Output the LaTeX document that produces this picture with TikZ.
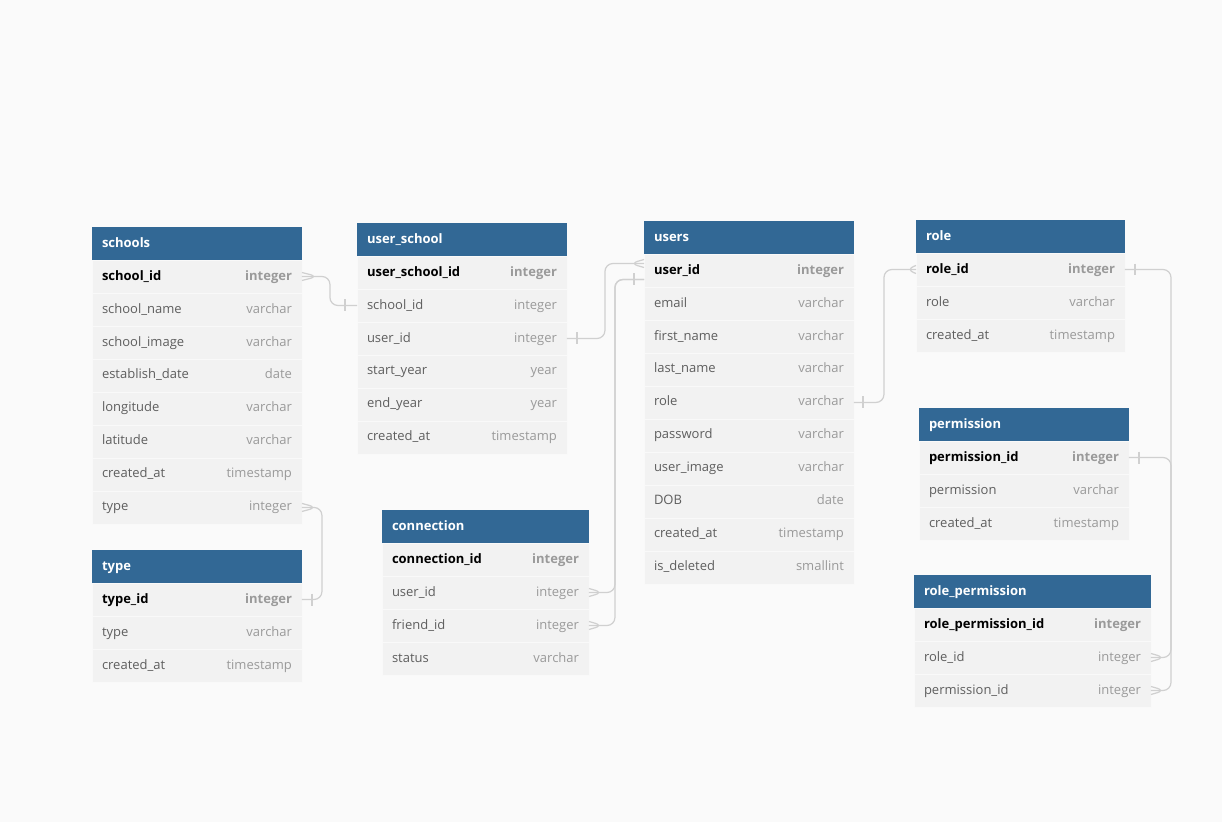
\documentclass[tikz,border=0pt]{standalone}
\usepackage{fontspec}
\setmainfont{Open Sans}
\usepackage{xcolor}
\usepackage{tikz}
\usetikzlibrary{positioning,calc}

\definecolor{hdrblue}{HTML}{326895}
\definecolor{rowgray}{HTML}{F2F2F2}
\definecolor{bggray}{HTML}{FAFAFA}
\definecolor{namegray}{HTML}{5E5E5E}
\definecolor{typegray}{HTML}{9A9A9A}
\definecolor{linkgray}{HTML}{D0D0D0}

\newcommand{\keyrow}[2]{\textbf{#1}\hfill\textcolor{typegray}{\textbf{#2}}}
\newcommand{\fieldrow}[2]{\textcolor{namegray}{#1}\hfill\textcolor{typegray}{#2}}
% crow foot and bar ends of a link
\newcommand{\manyend}[2]{\draw[link] ([yshift=0.08cm]#1) -- ([xshift=#2]#1) -- ([yshift=-0.08cm]#1);}
\newcommand{\oneend}[2]{\draw[link] ([xshift=#2,yshift=0.12cm]#1) -- ([xshift=#2,yshift=-0.12cm]#1);}

\tikzset{
  hdr/.style={fill=hdrblue, text=white, font=\fontsize{7.4}{9}\selectfont\bfseries, anchor=north west,
    minimum height=0.66cm, inner ysep=0pt, inner xsep=0.2cm, outer sep=0pt, text width=#1,
    text height=6pt, text depth=2pt},
  fld/.style={fill=rowgray, draw=white!55!rowgray, line width=0.4pt, font=\fontsize{7.4}{9}\selectfont,
    minimum height=0.66cm, inner ysep=0pt, inner xsep=0.2cm, outer sep=0pt, text width=#1,
    text height=6pt, text depth=2pt},
  link/.style={draw=linkgray, line width=0.7pt, rounded corners=0.16cm}
}

\begin{document}
\begin{tikzpicture}[x=0.02cm, y=-0.02cm, node distance=0cm]
    \useasboundingbox[fill=bggray] (0,0) rectangle (1222,822);

    % schools
    \node [hdr=3.8cm] (sch) at (92,227) {schools};
    \node [fld=3.8cm, below=0cm of sch] (sch1) {\keyrow{school\_id}{integer}};
    \node [fld=3.8cm, below=0cm of sch1] (sch2) {\fieldrow{school\_name}{varchar}};
    \node [fld=3.8cm, below=0cm of sch2] (sch3) {\fieldrow{school\_image}{varchar}};
    \node [fld=3.8cm, below=0cm of sch3] (sch4) {\fieldrow{establish\_date}{date}};
    \node [fld=3.8cm, below=0cm of sch4] (sch5) {\fieldrow{longitude}{varchar}};
    \node [fld=3.8cm, below=0cm of sch5] (sch6) {\fieldrow{latitude}{varchar}};
    \node [fld=3.8cm, below=0cm of sch6] (sch7) {\fieldrow{created\_at}{timestamp}};
    \node [fld=3.8cm, below=0cm of sch7] (sch8) {\fieldrow{type}{integer}};

    % type
    \node [hdr=3.8cm] (typ) at (92,550) {type};
    \node [fld=3.8cm, below=0cm of typ] (typ1) {\keyrow{type\_id}{integer}};
    \node [fld=3.8cm, below=0cm of typ1] (typ2) {\fieldrow{type}{varchar}};
    \node [fld=3.8cm, below=0cm of typ2] (typ3) {\fieldrow{created\_at}{timestamp}};

    % user_school
    \node [hdr=3.8cm] (us) at (357,223) {user\_school};
    \node [fld=3.8cm, below=0cm of us] (us1) {\keyrow{user\_school\_id}{integer}};
    \node [fld=3.8cm, below=0cm of us1] (us2) {\fieldrow{school\_id}{integer}};
    \node [fld=3.8cm, below=0cm of us2] (us3) {\fieldrow{user\_id}{integer}};
    \node [fld=3.8cm, below=0cm of us3] (us4) {\fieldrow{start\_year}{year}};
    \node [fld=3.8cm, below=0cm of us4] (us5) {\fieldrow{end\_year}{year}};
    \node [fld=3.8cm, below=0cm of us5] (us6) {\fieldrow{created\_at}{timestamp}};

    % connection
    \node [hdr=3.74cm] (cn) at (382,510) {connection};
    \node [fld=3.74cm, below=0cm of cn] (cn1) {\keyrow{connection\_id}{integer}};
    \node [fld=3.74cm, below=0cm of cn1] (cn2) {\fieldrow{user\_id}{integer}};
    \node [fld=3.74cm, below=0cm of cn2] (cn3) {\fieldrow{friend\_id}{integer}};
    \node [fld=3.74cm, below=0cm of cn3] (cn4) {\fieldrow{status}{varchar}};

    % users
    \node [hdr=3.8cm] (usr) at (644,221) {users};
    \node [fld=3.8cm, below=0cm of usr] (usr1) {\keyrow{user\_id}{integer}};
    \node [fld=3.8cm, below=0cm of usr1] (usr2) {\fieldrow{email}{varchar}};
    \node [fld=3.8cm, below=0cm of usr2] (usr3) {\fieldrow{first\_name}{varchar}};
    \node [fld=3.8cm, below=0cm of usr3] (usr4) {\fieldrow{last\_name}{varchar}};
    \node [fld=3.8cm, below=0cm of usr4] (usr5) {\fieldrow{role}{varchar}};
    \node [fld=3.8cm, below=0cm of usr5] (usr6) {\fieldrow{password}{varchar}};
    \node [fld=3.8cm, below=0cm of usr6] (usr7) {\fieldrow{user\_image}{varchar}};
    \node [fld=3.8cm, below=0cm of usr7] (usr8) {\fieldrow{DOB}{date}};
    \node [fld=3.8cm, below=0cm of usr8] (usr9) {\fieldrow{created\_at}{timestamp}};
    \node [fld=3.8cm, below=0cm of usr9] (usr10) {\fieldrow{is\_deleted}{smallint}};

    % role
    \node [hdr=3.78cm] (rl) at (916,220) {role};
    \node [fld=3.78cm, below=0cm of rl] (rl1) {\keyrow{role\_id}{integer}};
    \node [fld=3.78cm, below=0cm of rl1] (rl2) {\fieldrow{role}{varchar}};
    \node [fld=3.78cm, below=0cm of rl2] (rl3) {\fieldrow{created\_at}{timestamp}};

    % permission
    \node [hdr=3.8cm] (pm) at (919,408) {permission};
    \node [fld=3.8cm, below=0cm of pm] (pm1) {\keyrow{permission\_id}{integer}};
    \node [fld=3.8cm, below=0cm of pm1] (pm2) {\fieldrow{permission}{varchar}};
    \node [fld=3.8cm, below=0cm of pm2] (pm3) {\fieldrow{created\_at}{timestamp}};

    % role_permission
    \node [hdr=4.34cm] (rp) at (914,575) {role\_permission};
    \node [fld=4.34cm, below=0cm of rp] (rp1) {\keyrow{role\_permission\_id}{integer}};
    \node [fld=4.34cm, below=0cm of rp1] (rp2) {\fieldrow{role\_id}{integer}};
    \node [fld=4.34cm, below=0cm of rp2] (rp3) {\fieldrow{permission\_id}{integer}};

    % entry points on users.user_id
    \coordinate (uidin) at ([yshift=0.14cm]usr1.west);
    \coordinate (uidout) at ([yshift=-0.18cm]usr1.west);

    % links
    \draw [link] (sch1.east) -- ++(28,0) |- (us2.west);
    \manyend{sch1.east}{0.32cm}
    \oneend{us2.west}{-0.24cm}

    \draw [link] (sch8.east) -- ++(20,0) |- (typ1.east);
    \manyend{sch8.east}{0.3cm}
    \oneend{typ1.east}{0.2cm}

    \draw [link] (us3.east) -- ++(38,0) |- (uidin);
    \oneend{us3.east}{0.2cm}
    \manyend{uidin}{-0.28cm}

    \draw [link] (cn2.east) -- ++(26,0) |- (uidout);
    \draw [link] (cn3.east) -- ++(26,0) |- (uidout);
    \manyend{cn2.east}{0.28cm}
    \manyend{cn3.east}{0.28cm}
    \oneend{uidout}{-0.2cm}

    \draw [link] (usr5.east) -- ++(30,0) |- (rl1.west);
    \oneend{usr5.east}{0.18cm}
    \manyend{rl1.west}{-0.2cm}

    \draw [link] (rl1.east) -- ++(46,0) |- (rp2.east);
    \oneend{rl1.east}{0.2cm}
    \manyend{rp2.east}{0.28cm}

    \draw [link] (pm1.east) -- ++(42,0) |- (rp3.east);
    \oneend{pm1.east}{0.2cm}
    \manyend{rp3.east}{0.28cm}
\end{tikzpicture}
\end{document}
